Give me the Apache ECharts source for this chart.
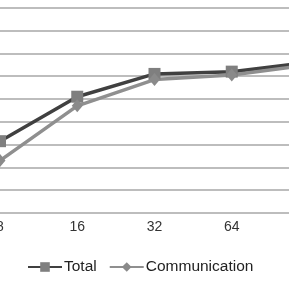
<!DOCTYPE html>
<html>
<head>
<meta charset="utf-8">
<script src="https://cdn.jsdelivr.net/npm/echarts@6/dist/echarts.min.js"></script>
<style>
  html, body { margin: 0; padding: 0; background: #fff; }
  #chart { width: 289px; height: 289px; }
</style>
</head>
<body>
<div id="chart"></div>
<script>
// categories on the x axis (processor counts)
const categories = ['8', '16', '32', '64', '128'];
// series values (one gridline = 1 unit)
const totalValues = [3.15, 5.1, 6.1, 6.2, 6.6];
const commValues = [2.3, 4.7, 5.85, 6.05, 6.5];

let chart = echarts.init(document.getElementById('chart'));
let option = {
  animation: false,
  grid: {
    left: 0,
    right: -20,
    top: -15,
    bottom: 76,
    outerBoundsMode: 'none'
  },
  legend: {
    bottom: 9,
    left: 22,
    itemWidth: 34,
    itemHeight: 12,
    itemGap: 12,
    textStyle: { fontFamily: 'Liberation Sans', fontSize: 15.5, color: '#222', padding: [0, 0, 0, -3] },
    data: ['Total', 'Communication']
  },
  xAxis: {
    type: 'category',
    data: categories,
    boundaryGap: false,
    axisLine: { lineStyle: { color: '#bdbdbd', width: 2 } },
    axisTick: { show: false },
    axisLabel: { fontFamily: 'Liberation Sans', fontSize: 14, color: '#333', margin: 7 }
  },
  yAxis: {
    type: 'value',
    min: 0,
    max: 10,
    interval: 1,
    axisLabel: { show: false },
    axisLine: { show: false },
    axisTick: { show: false },
    splitLine: { lineStyle: { color: '#bdbdbd', width: 2 } }
  },
  series: [
    {
      name: 'Total',
      type: 'line',
      data: totalValues,
      symbol: 'rect',
      symbolSize: 12,
      lineStyle: { color: '#404040', width: 3.5 },
      itemStyle: { color: '#7f7f7f' }
    },
    {
      name: 'Communication',
      type: 'line',
      data: commValues,
      symbol: 'diamond',
      symbolSize: [11, 13],
      lineStyle: { color: '#8f8f8f', width: 3.5 },
      itemStyle: { color: '#8a8a8a' }
    }
  ]
};
chart.setOption(option);
</script>
</body>
</html>
